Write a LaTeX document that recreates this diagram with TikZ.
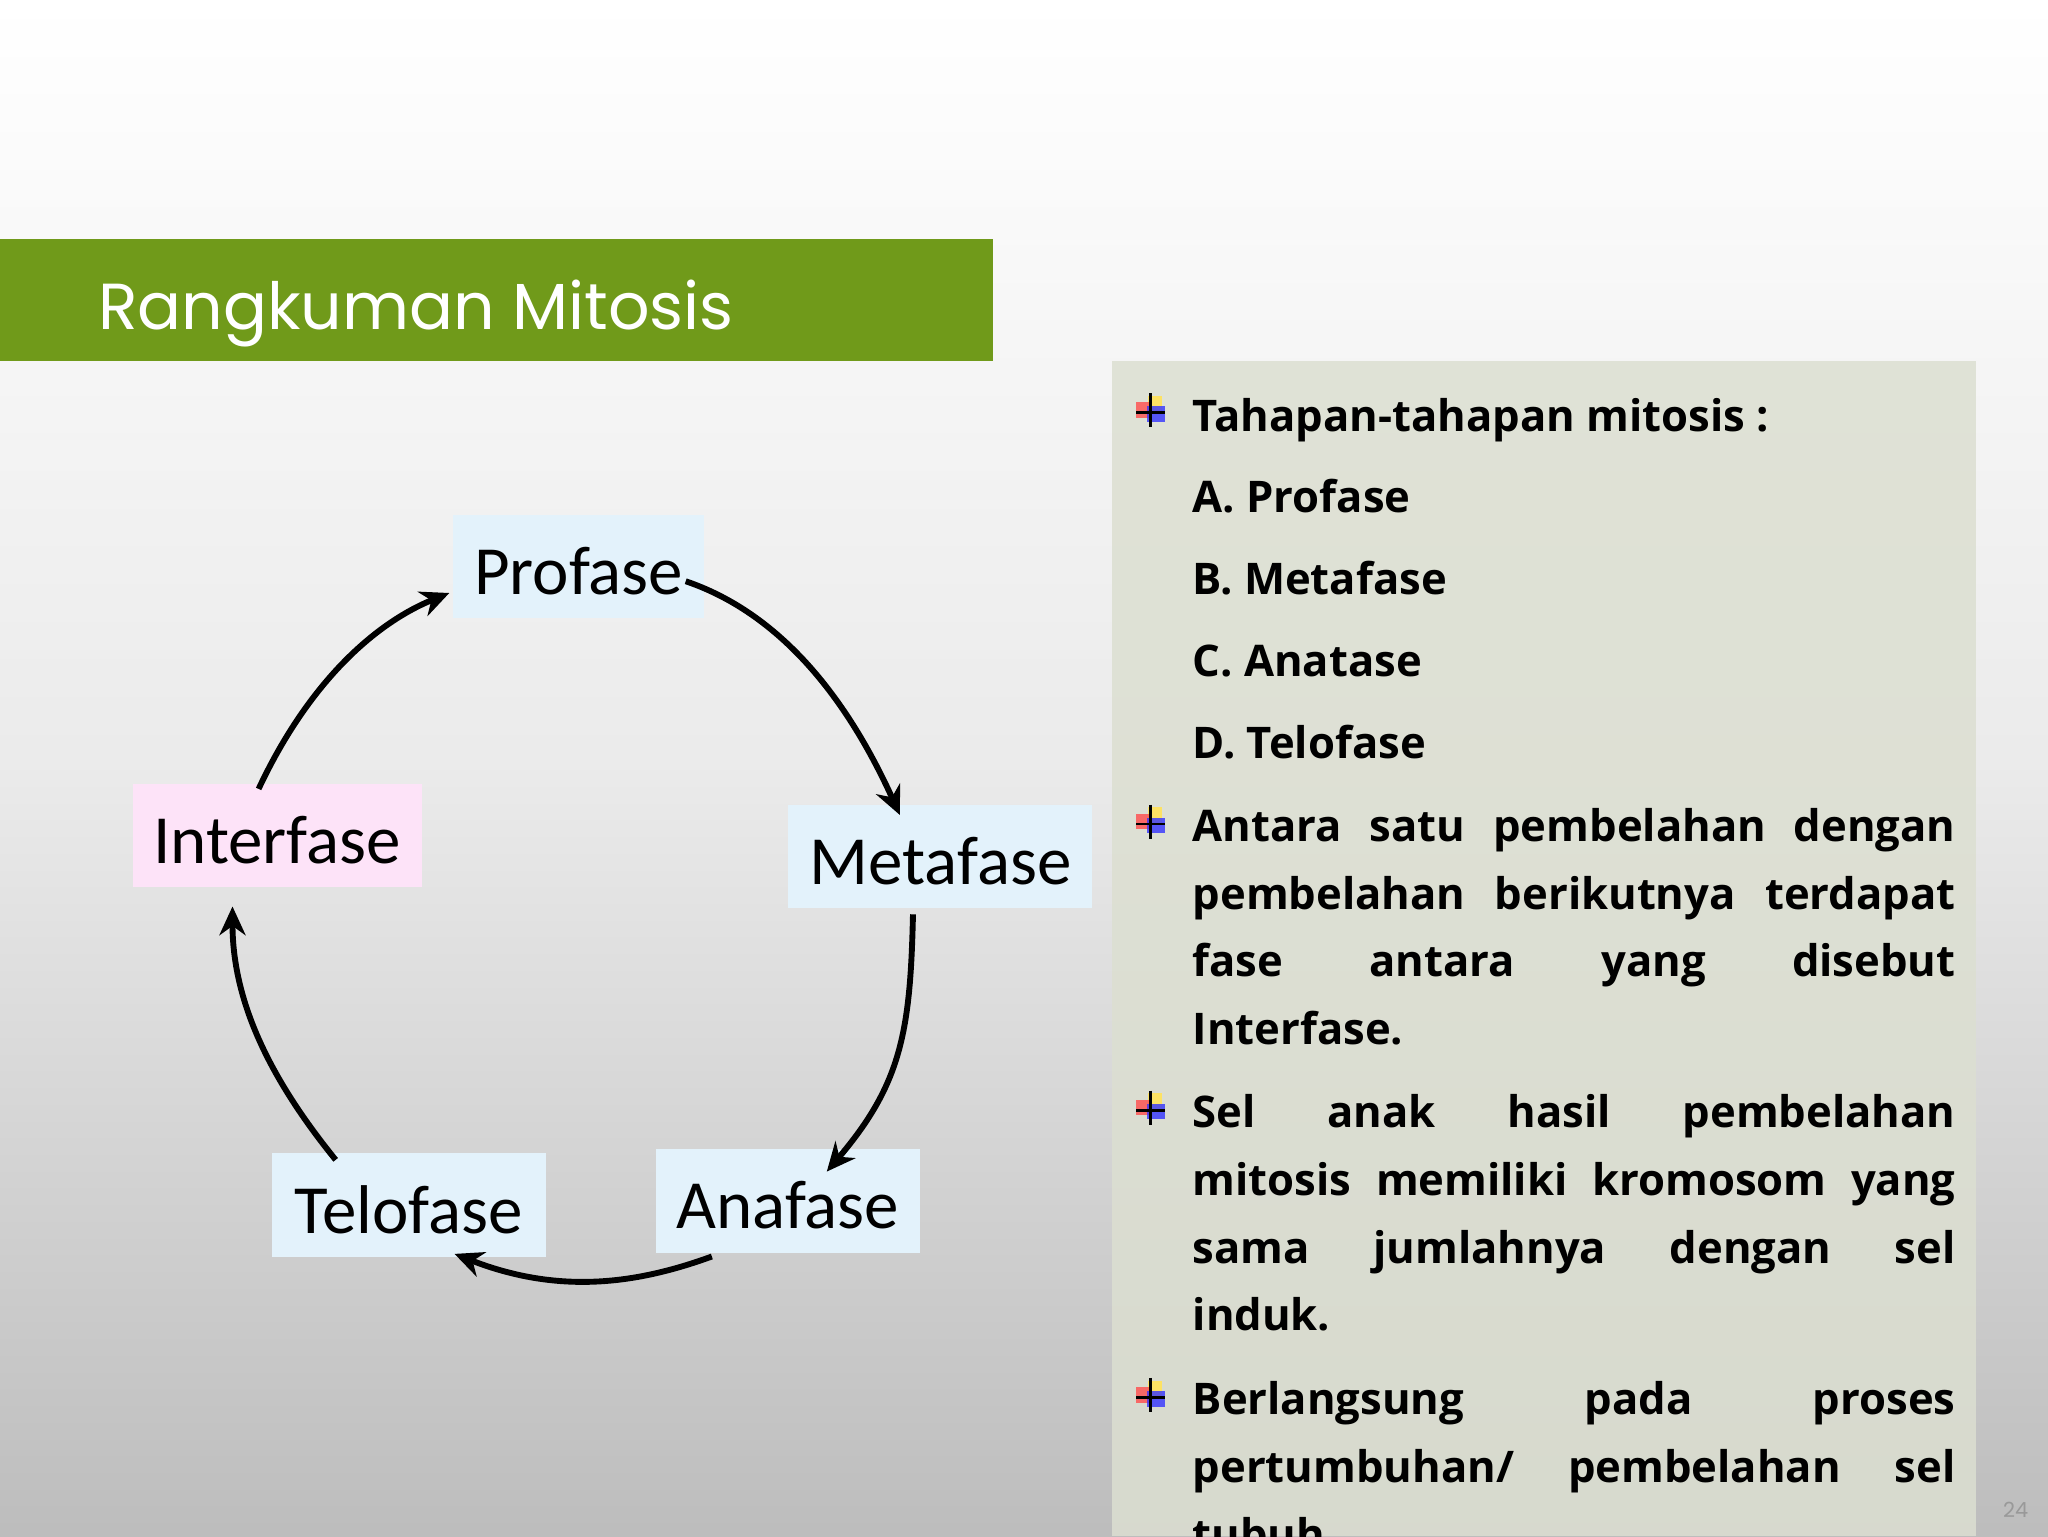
\documentclass[tikz,border=0pt]{standalone}
\usepackage{fontspec}
\setmainfont{Open Sans}
\newfontfamily\carl{Carlito}
\newfontfamily\pop{Poppins}
\usetikzlibrary{arrows.meta,shadings}
\definecolor{bargreen}{HTML}{709A1A}
\definecolor{panelc}{HTML}{DCDFD1}
\definecolor{bluebox}{HTML}{E3F2FB}
\definecolor{pinkbox}{HTML}{FDE3F8}
\tikzset{
  phase/.style={font=\carl\fontsize{53}{58}\selectfont, inner sep=0pt, anchor=center},
  cyc/.style={line width=4.5bp, -{Stealth[length=22bp,width=20bp]}},
  ptxt/.style={anchor=base west, inner sep=0pt, font=\bfseries\fontsize{33.5}{36}\selectfont},
}
\newcommand{\bul}[2]{%
  \fill[yellow!70!orange!60] (#1+3,#2-14) rectangle (#1+14,#2-2);
  \fill[red!70,opacity=.8] (#1-6,#2-9) rectangle (#1+6,#2+3);
  \fill[blue!80,opacity=.8] (#1+2,#2-6) rectangle (#1+16,#2+6);
  \draw[line width=2bp] (#1+5,#2-16) -- (#1+5,#2+10) (#1-6,#2-1) -- (#1+16,#2-1);}
\newcommand{\jline}[2]{\makebox[584bp][s]{#2}}
\begin{document}
\begin{tikzpicture}[x=1bp,y=-1bp]
\useasboundingbox (0,0) rectangle (1568,1176);
\shade[top color=white, bottom color=black!26, middle color=black!8] (0,0) rectangle (1568,1176);
\fill[bargreen] (0,183) rectangle (760,276);
\node[anchor=base west, text=white, font=\pop\fontsize{50}{56}\selectfont, inner sep=0pt] (title) at (75,252) {Rangkuman Mitosis};
\fill[panelc,opacity=.85] (851,276) rectangle (1513,1176);
% diagram boxes
\fill[bluebox] (347,394) rectangle (539,473);
\fill[pinkbox] (102,600) rectangle (323,679);
\fill[bluebox] (603,616) rectangle (836,695);
\fill[bluebox] (208,883) rectangle (418,962);
\fill[bluebox] (502,880) rectangle (704,959);
\node[phase] (prof) at (443,437) {Profase};
\node[phase] (inter) at (212,643) {Interfase};
\node[phase] (meta) at (720,659) {Metafase};
\node[phase] (telo) at (313,926) {Telofase};
\node[phase] (ana) at (603,923) {Anafase};
\coordinate (a1) at (198,604); \coordinate (b1) at (344,454);
\coordinate (a2) at (525,445); \coordinate (b2) at (689,624);
\coordinate (a3) at (699,700); \coordinate (b3) at (633,897);
\coordinate (a4) at (545,962); \coordinate (b4) at (348,960);
\coordinate (a5) at (257,888); \coordinate (b5) at (178,694);
\draw[cyc] (a1) .. controls (235,525) and (285,478) .. (b1);
\draw[cyc] (a2) .. controls (575,462) and (635,505) .. (b2);
\draw[cyc] (a3) .. controls (697,790) and (690,830) .. (b3);
\draw[cyc] (a4) .. controls (490,982) and (430,992) .. (b4);
\draw[cyc] (a5) .. controls (210,830) and (178,770) .. (b5);
% panel text
\bul{876}{317} \bul{876}{632} \bul{876}{851} \bul{876}{1071}
\begin{scope}
\clip (851,276) rectangle (1513,1176);
\node[ptxt] (l1) at (913,330) {Tahapan-tahapan mitosis :};
\node[ptxt] (l2) at (913,392) {A. Profase};
\node[ptxt] (l3) at (913,455) {B. Metafase};
\node[ptxt] (l4) at (913,518) {C. Anatase};
\node[ptxt] (l5) at (913,581) {D. Telofase};
\node[ptxt] (l6) at (913,644) {\jline{}{Antara satu pembelahan dengan}};
\node[ptxt] (l7) at (913,696) {\jline{}{pembelahan berikutnya terdapat}};
\node[ptxt] (l8) at (913,748) {\jline{}{fase\hfill antara\hfill yang\hfill disebut}};
\node[ptxt] (l9) at (913,800) {Interfase.};
\node[ptxt] (l10) at (913,863) {\jline{}{Sel\hfill anak\hfill hasil\hfill pembelahan}};
\node[ptxt] (l11) at (913,915) {\jline{}{mitosis memiliki kromosom yang}};
\node[ptxt] (l12) at (913,967) {\jline{}{sama\hfill jumlahnya\hfill dengan\hfill sel}};
\node[ptxt] (l13) at (913,1019) {induk.};
\node[ptxt] (l14) at (913,1083) {\jline{}{Berlangsung\hfill pada\hfill proses}};
\node[ptxt] (l15) at (913,1135) {\jline{}{pertumbuhan/\hfill pembelahan\hfill sel}};
\node[ptxt] (l16) at (913,1187) {tubuh.};
\end{scope}
\node[anchor=base east, text=black!40, font=\pop\fontsize{16}{18}\selectfont, inner sep=0pt] (pg) at (1553,1162) {24};
\end{tikzpicture}
\end{document}
